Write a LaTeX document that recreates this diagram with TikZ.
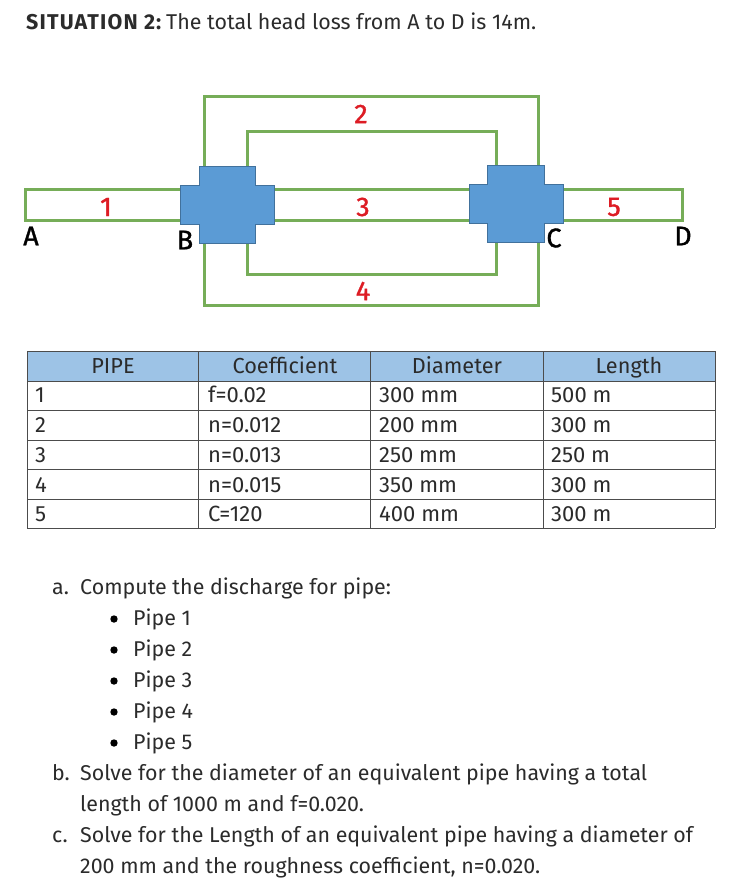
\documentclass[tikz,border=0pt]{standalone}
\usepackage{fontspec}
\usepackage{tikz}
\usetikzlibrary{calc}
\setmainfont{Fira Sans}
\newfontfamily\labelfont[FakeBold=1.2]{Fira Sans}
\definecolor{pipegreen}{HTML}{76AD58}
\definecolor{jointblue}{HTML}{5B9BD5}
\definecolor{jointedge}{HTML}{41719C}
\definecolor{headblue}{HTML}{9DC3E6}
\definecolor{pipered}{HTML}{DD1C24}
\definecolor{txt}{HTML}{2B2B2B}
\tikzset{
    pipeline/.style={draw=pipegreen, line width=3pt},
    joint/.style={fill=jointblue, draw=jointedge, line width=0.7pt},
    pipelabel/.style={text=pipered, font=\fontsize{27}{27}\selectfont\labelfont},
    pointlabel/.style={text=black, font=\fontsize{27}{27}\selectfont\labelfont},
    para/.style={anchor=base west, text=txt, inner sep=0pt, font=\fontsize{21.4}{21.4}\selectfont},
    cell/.style={anchor=base west, text=txt, inner sep=0pt, font=\fontsize{22}{22}\selectfont},
    headcell/.style={anchor=base, text=txt, inner sep=0pt, font=\fontsize{21.7}{21.7}\selectfont},
    grid/.style={draw=black!70, line width=1pt}
}
\begin{document}
\begin{tikzpicture}[x=1pt, y=-1pt]
    \useasboundingbox (0,0) rectangle (753,879);
    \node[para] (title) at (26,29.5) {\addfontfeature{LetterSpace=5.5}\textbf{SITUATION 2:}};
    \node[para] (titlerest) at (166,29.5) {The total head loss from A to D is 14m.};

    % pipes
    \draw[pipeline] (180,189) -- (25,189) -- (25,220.7) -- (180,220.7);
    \draw[pipeline] (204,167) -- (204,96) -- (538,96) -- (538,165);
    \draw[pipeline] (247.5,167) -- (247.5,131) -- (496,131) -- (496,165);
    \draw[pipeline] (274,189) -- (469,189);
    \draw[pipeline] (274,220.7) -- (469,220.7);
    \draw[pipeline] (247.5,243) -- (247.5,274.7) -- (496,274.7) -- (496,242);
    \draw[pipeline] (204,243) -- (204,305.7) -- (538,305.7) -- (538,242);
    \draw[pipeline] (563,189) -- (682,189) -- (682,220.7) -- (563,220.7);

    % joints
    \draw[joint] (199,166.5) -- (255,166.5) -- (255,185.5) -- (274,185.5) -- (274,224)
        -- (255,224) -- (255,243) -- (199,243) -- (199,224) -- (180,224) -- (180,185.5)
        -- (199,185.5) -- cycle;
    \draw[joint] (487.7,165) -- (544,165) -- (544,184) -- (563,184) -- (563,223)
        -- (544,223) -- (544,242) -- (487.7,242) -- (487.7,223) -- (469,223) -- (469,184)
        -- (487.7,184) -- cycle;

    \node[pipelabel] (p1) at (106,207) {1};
    \node[pipelabel] (p2) at (361,114) {2};
    \node[pipelabel] (p3) at (363,207) {3};
    \node[pipelabel] (p4) at (363,291) {4};
    \node[pipelabel] (p5) at (614,207) {5};
    \node[pointlabel] (A) at (31,236) {A};
    \node[pointlabel] (B) at (185,240) {B};
    \node[pointlabel] (C) at (554,238) {C};
    \node[pointlabel] (D) at (683,236) {D};

    % table
    \fill[headblue] (27,351) rectangle (715,381);
    \foreach \y in {351,381,410,440,469,499,528}
        \draw[grid] (27,\y) -- (715,\y);
    \foreach \x in {27,198.5,370.5,543,715}
        \draw[grid] (\x,351) -- (\x,528);
    \node[headcell] (hpipe) at (113,373.5) {PIPE};
    \node[headcell] (hcoef) at (285,373.5) {Coefficient};
    \node[headcell] (hdiam) at (457,373.5) {Diameter};
    \node[headcell] (hlen) at (629,373.5) {Length};
    \foreach \n/\y/\co/\di/\le in {1/402.5/f=0.02/300 mm/500 m,
        2/432.5/n=0.012/200 mm/300 m,
        3/462/n=0.013/250 mm/250 m,
        4/492/n=0.015/350 mm/300 m,
        5/521.5/C=120/400 mm/300 m}{
        \node[cell] (num\n) at (35,\y) {\n};
        \node[cell] (coef\n) at (208,\y) {\co};
        \node[cell] (diam\n) at (379,\y) {\di};
        \node[cell] (len\n) at (551,\y) {\le};
    }

    % questions
    \node[para] (qa) at (52,594) {a.};
    \node[para] (qatext) at (80,594) {Compute the discharge for pipe:};
    \foreach \n/\y in {1/625.5,2/656.5,3/687.5,4/718.5,5/749.5}{
        \fill[black] (114,\y-6.5) circle (3.7);
        \node[para] (item\n) at (133,\y) {Pipe \n};
    }
    \node[para] (qb) at (52,780.5) {b.};
    \node[para] (qbtext) at (80,780.5) {Solve for the diameter of an equivalent pipe having a total};
    \node[para] (qbb) at (80,811.5) {length of 1000 m and f=0.020.};
    \node[para] (qc) at (52,842.5) {c.};
    \node[para] (qctext) at (80,842.5) {Solve for the Length of an equivalent pipe having a diameter of};
    \node[para] (qcc) at (80,873.5) {200 mm and the roughness coefficient, n=0.020.};
\end{tikzpicture}
\end{document}
